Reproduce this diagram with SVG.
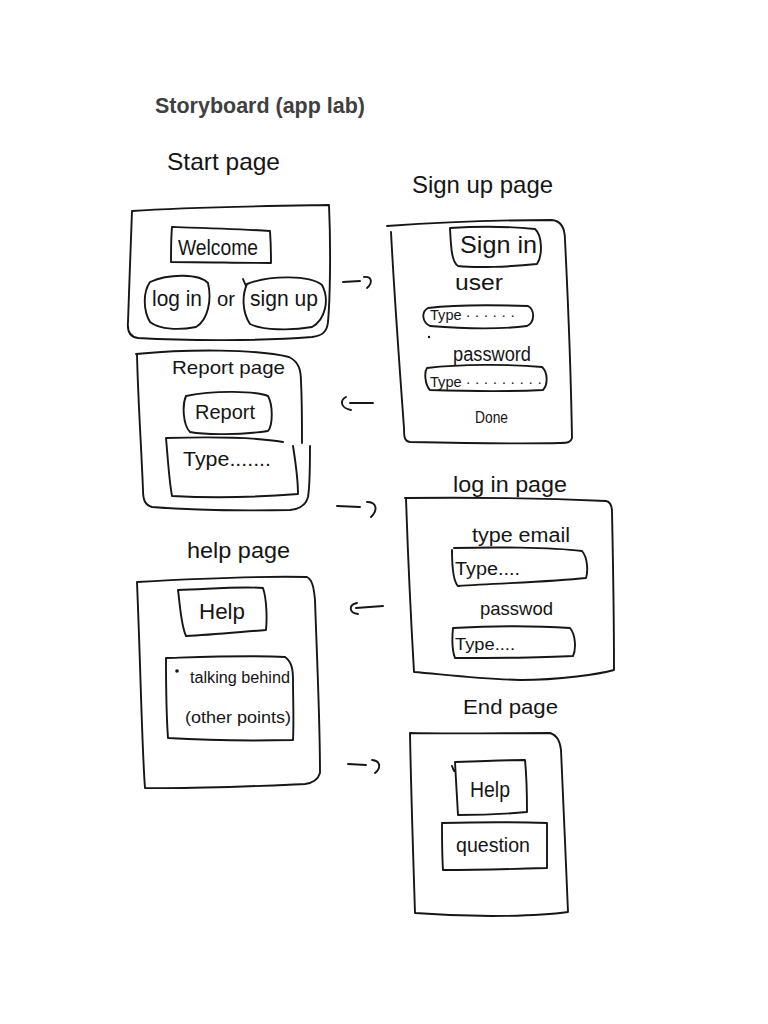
<svg xmlns="http://www.w3.org/2000/svg" width="768" height="1024" viewBox="0 0 768 1024">
<style>
.s{fill:none;stroke:#161616;stroke-width:1.9;stroke-linecap:round;stroke-linejoin:round}
.h{font-family:"Liberation Sans",Arial,sans-serif;fill:#151515;lengthAdjust:spacingAndGlyphs}
.t{font-family:"Liberation Sans",Arial,sans-serif;font-weight:bold;fill:#3f3f3f}
</style>
<rect width="768" height="1024" fill="#ffffff"/>
<text class="t" x="155" y="113" font-size="21.5" textLength="210" lengthAdjust="spacingAndGlyphs">Storyboard (app lab)</text>

<g id="start-page">
<text class="h" x="167" y="170" font-size="24" textLength="113" lengthAdjust="spacingAndGlyphs">Start page</text>
<path class="s" d="M132,211 C190,207 270,206 329,205 C331,250 330,300 328,322 C327,332 322,336 312,337 C260,341 190,341 138,338 C130,337 127,332 128,322 C129,290 131,240 132,211 Z"/>
<path class="s" d="M172,227 C205,228 240,229 270,231 C271,245 271,255 271,263 C240,263 205,262 171,262 C171,250 171,238 172,227 Z"/>
<text class="h" x="178" y="255" font-size="22" textLength="80" lengthAdjust="spacingAndGlyphs">Welcome</text>
<path class="s" d="M150,282 C170,273 200,274 208,283 C212,300 208,320 196,327 C180,330 160,330 150,322 C143,310 143,292 150,282 Z"/>
<text class="h" x="152" y="306" font-size="22" textLength="50" lengthAdjust="spacingAndGlyphs">log in</text>
<text class="h" x="217" y="306" font-size="20" textLength="18" lengthAdjust="spacingAndGlyphs">or</text>
<path class="s" d="M247,284 C270,275 310,275 322,285 C330,300 325,320 312,327 C290,331 262,330 250,324 C242,312 242,295 247,284 Z M243,279 L246,286"/>
<text class="h" x="250" y="306" font-size="22" textLength="68" lengthAdjust="spacingAndGlyphs">sign up</text>
</g>

<g id="sign-up-page">
<text class="h" x="412" y="193" font-size="24" textLength="141" lengthAdjust="spacingAndGlyphs">Sign up page</text>
<path class="s" d="M387,226 C430,223 500,220 552,220 C562,221 565,230 565,240 C568,300 571,380 572,438 C571,442 568,443 560,443 C520,444 460,443 410,442 C404,441 404,436 404,428 C399,360 394,290 391,232"/>
<path class="s" d="M450,228 C480,226 515,227 535,229 C542,235 543,255 537,264 C510,267 475,268 458,266 C452,262 451,250 450,228 Z"/>
<text class="h" x="460" y="253" font-size="24" textLength="77" lengthAdjust="spacingAndGlyphs">Sign in</text>
<text class="h" x="455" y="290" font-size="22" textLength="48" lengthAdjust="spacingAndGlyphs">user</text>
<path class="s" d="M428,308 C460,304 500,305 528,306 C535,310 535,322 527,326 C495,330 455,328 430,326 C422,322 421,312 428,308 Z"/>
<text class="h" x="430" y="320" font-size="15" textLength="85" lengthAdjust="spacingAndGlyphs">Type · · · · · ·</text>
<circle cx="429" cy="337" r="1.2" fill="#161616"/>
<text class="h" x="453" y="361" font-size="20" textLength="78" lengthAdjust="spacingAndGlyphs">password</text>
<path class="s" d="M427,368 C460,364 510,364 542,367 C548,372 548,385 543,390 C505,392 460,391 430,390 C425,385 424,372 427,368 Z"/>
<text class="h" x="430" y="387" font-size="15" textLength="112" lengthAdjust="spacingAndGlyphs">Type · · · · · · · · ·</text>
<text class="h" x="475" y="423" font-size="16" textLength="33" lengthAdjust="spacingAndGlyphs">Done</text>
</g>

<g id="report-page">
<path class="s" d="M136,354 C190,349 255,349 289,357 C299,362 301,370 301,382 C302,400 302,425 302,443"/>
<path class="s" d="M310,446 C310,465 310,485 308,497 C306,505 300,509 290,510 C240,511 190,510 152,507 C145,505 143,500 143,490 C141,440 138,400 137,354"/>
<text class="h" x="172" y="374" font-size="19" textLength="113" lengthAdjust="spacingAndGlyphs">Report page</text>
<path class="s" d="M186,396 C215,390 255,391 268,396 C273,405 273,425 268,431 C240,435 205,435 190,432 C183,425 182,405 186,396 Z"/>
<text class="h" x="195" y="419" font-size="20" textLength="60" lengthAdjust="spacingAndGlyphs">Report</text>
<path class="s" d="M166,438 C200,437 255,437 283,442 M293,446 C296,465 298,482 298,494 C260,497 210,498 172,496 C169,480 168,460 166,438"/>
<text class="h" x="183" y="466" font-size="20" textLength="88" lengthAdjust="spacingAndGlyphs">Type.......</text>
</g>

<g id="log-in-page">
<text class="h" x="453" y="492" font-size="22" textLength="114" lengthAdjust="spacingAndGlyphs">log in page</text>
<path class="s" d="M405,498 C480,497 560,499 606,501 C611,502 612,506 612,512 C613,560 614,620 614,670 C600,674 560,680 520,680 C480,679 440,674 414,672 C411,620 408,560 406,498"/>
<text class="h" x="472" y="542" font-size="20" textLength="98" lengthAdjust="spacingAndGlyphs">type email</text>
<path class="s" d="M454,548 C490,547 550,547 582,551 C588,558 588,572 586,578 C550,582 500,583 458,586 C452,580 452,560 452,550"/>
<text class="h" x="455" y="575" font-size="18" textLength="65" lengthAdjust="spacingAndGlyphs">Type....</text>
<text class="h" x="480" y="615" font-size="19" textLength="73" lengthAdjust="spacingAndGlyphs">passwod</text>
<path class="s" d="M453,628 C490,626 540,626 570,628 C576,635 576,650 573,656 C540,658 490,658 455,658 C452,650 452,638 453,628 Z"/>
<text class="h" x="455" y="650" font-size="16" textLength="60" lengthAdjust="spacingAndGlyphs">Type....</text>
</g>

<g id="help-page">
<text class="h" x="187" y="558" font-size="22" textLength="103" lengthAdjust="spacingAndGlyphs">help page</text>
<path class="s" d="M137,582 C190,579 260,576 307,577 C313,580 314,590 315,600 C317,660 320,720 320,773 C318,780 312,783 305,784 C260,786 200,789 145,788 C142,750 141,680 137,582 Z"/>
<path class="s" d="M178,590 C210,589 240,586 263,588 C267,600 267,620 266,630 C240,632 210,635 186,636 C181,625 180,605 178,590 Z"/>
<text class="h" x="199" y="619" font-size="22" textLength="46" lengthAdjust="spacingAndGlyphs">Help</text>
<path class="s" d="M166,658 C200,657 250,655 285,657 C292,662 293,670 293,680 C293,700 294,720 293,740 C250,741 200,740 168,738 C166,710 166,680 166,658 Z"/>
<circle cx="177" cy="671" r="1.8" fill="#161616"/>
<text class="h" x="190" y="683" font-size="16" textLength="100" lengthAdjust="spacingAndGlyphs">talking behind</text>
<text class="h" x="185" y="723" font-size="16" textLength="106" lengthAdjust="spacingAndGlyphs">(other points)</text>
</g>

<g id="end-page">
<text class="h" x="463" y="714" font-size="21" textLength="95" lengthAdjust="spacingAndGlyphs">End page</text>
<path class="s" d="M410,733 C450,734 510,733 550,733 C558,736 560,742 561,750 C563,800 566,860 568,912 C540,916 480,918 415,913 C413,850 411,790 410,733 Z"/>
<path class="s" d="M455,762 C480,761 505,760 525,760 C527,780 527,800 527,812 C505,814 480,815 458,815 C457,800 456,780 455,762 Z M452,766 L454,771"/>
<text class="h" x="470" y="797" font-size="22" textLength="40" lengthAdjust="spacingAndGlyphs">Help</text>
<path class="s" d="M442,823 C480,822 520,822 547,823 C547,840 547,855 547,868 C515,869 475,870 443,870 C442,855 442,838 442,823 Z"/>
<text class="h" x="456" y="852" font-size="20" textLength="74" lengthAdjust="spacingAndGlyphs">question</text>
</g>

<g id="connectors">
<path class="s" d="M343,282 L360,281 M364,277 C372,276 373,283 367,288"/>
<path class="s" d="M346,397 C340,400 340,408 351,410 M350,403 L373,403"/>
<path class="s" d="M337,506 L360,507 M367,502 C377,502 378,510 371,517"/>
<path class="s" d="M357,603 C348,605 349,613 358,614 M356,608 L383,606"/>
<path class="s" d="M348,764 L366,765 M372,760 C381,761 381,768 375,773"/>
</g>
</svg>
